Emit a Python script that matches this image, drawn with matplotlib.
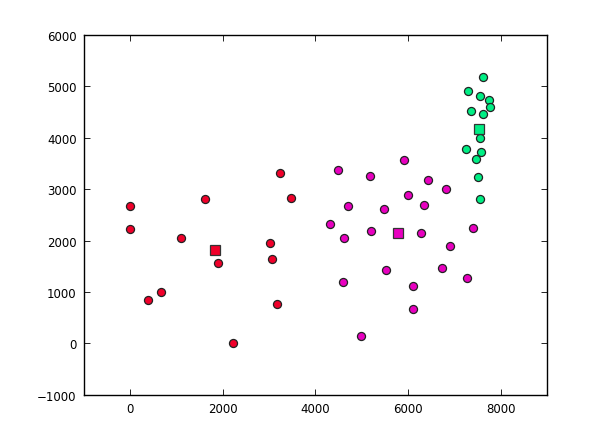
import numpy as np
import matplotlib
matplotlib.use('Agg')
import matplotlib.pyplot as plt

# cluster members
red_x = [0, 6, 389, 663, 1101, 1625, 1906, 2230, 3015, 3071, 3173, 3238, 3475]
red_y = [2677, 2218, 842, 1004, 2049, 2807, 1568, 12, 1946, 1646, 759, 3307, 2827]

magenta_x = [4483, 5180, 5908, 6432, 6814, 4712, 5476, 5994, 6352, 4310, 4613,
             5202, 6288, 7403, 6907, 5532, 6741, 7280, 4604, 6108, 6115, 4986]
magenta_y = [3372, 3261, 3566, 3177, 2996, 2677, 2613, 2879, 2685, 2321, 2043,
             2185, 2140, 2249, 1893, 1426, 1459, 1270, 1198, 1115, 667, 142]

green_x = [7619, 7295, 7561, 7742, 7770, 7360, 7613, 7554, 7259, 7583, 7475, 7518, 7554]
green_y = [5181, 4903, 4817, 4728, 4597, 4514, 4455, 3988, 3786, 3716, 3591, 3241, 2802]

clusters = [
    (red_x, red_y, '#f0002a'),
    (magenta_x, magenta_y, '#e800c0'),
    (green_x, green_y, '#00ee84'),
]

fig = plt.figure(figsize=(6.13, 4.27), dpi=100)
ax = fig.add_axes([0.1365, 0.0733, 0.7558, 0.8426])

for xs, ys, col in clusters:
    ax.plot(xs, ys, 'o', color=col, markersize=5.8, markeredgecolor='#222222',
            markeredgewidth=0.9)
    # centroid of the cluster
    ax.plot(np.mean(xs), np.mean(ys), 's', color=col, markersize=7.2,
            markeredgecolor='#333333', markeredgewidth=0.9)

ax.set_xlim(-1000, 9000)
ax.set_ylim(-1000, 6000)
ax.set_xticks([0, 2000, 4000, 6000, 8000])
ax.set_yticks(range(-1000, 6001, 1000))
ax.tick_params(direction='in', top=True, right=True, length=4, width=0.6,
               labelsize=8.5, pad=5)
for sp in ax.spines.values():
    sp.set_linewidth(1.0)

fig.savefig('out.png', dpi=100)
